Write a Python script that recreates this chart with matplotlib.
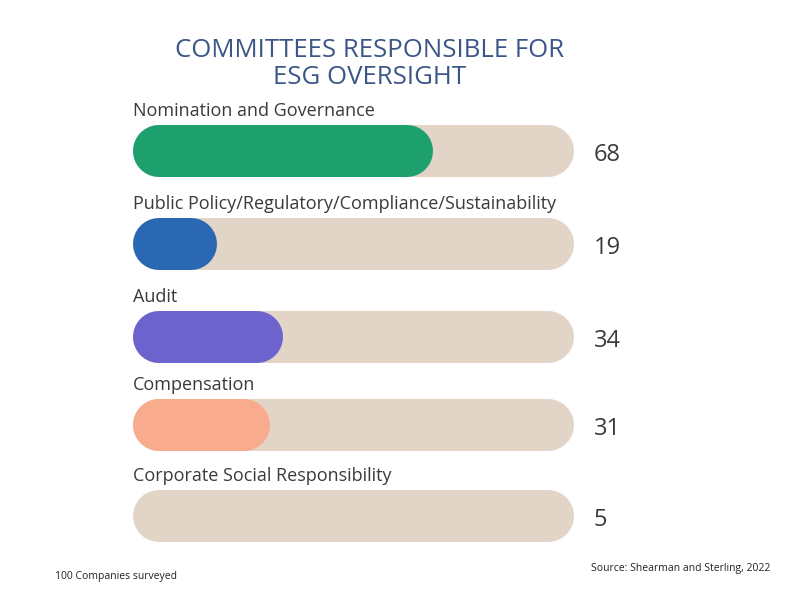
import matplotlib.pyplot as plt

categories = ["Nomination and Governance",
              "Public Policy/Regulatory/Compliance/Sustainability",
              "Audit", "Compensation", "Corporate Social Responsibility"]
values = [68, 19, 34, 31, 5]
colors = ["#1e9f6e", "#2a68b4", "#6c63cf", "#f9ab8e", "#e8676a"]
track_color = "#e2d4c7"

plt.rcParams['font.family'] = ['Open Sans', 'DejaVu Sans']

fig = plt.figure(figsize=(8, 6), dpi=100)
# axes spans the bar track horizontally, y in pixel units of the figure
ax = fig.add_axes([133 / 800, 0, 441 / 800, 1])
ax.set_xlim(0, 100)
ax.set_ylim(600, 0)
ax.axis('off')

bar_px = 52
lw = bar_px * 72 / 100
r = bar_px / 2 / 441 * 100  # cap radius in data units

row_y = [151, 244, 337, 425, 516]
for y, cat, v, c in zip(row_y, categories, values, colors):
    ax.plot([r, 100 - r], [y, y], color=track_color, lw=lw,
            solid_capstyle='round', zorder=1)
    ax.plot([r, max(v - r, r)], [y, y], color=c, lw=lw,
            solid_capstyle='round', zorder=2)
    ax.text(0, y - 40, cat, fontsize=13, color="#3a3a3a", va='center', ha='left')
    ax.text(104.5, y + 4, str(v), fontsize=17, color="#3a3a3a", va='center', ha='left')

fig.text(370 / 800, 1 - 64 / 600, "COMMITTEES RESPONSIBLE FOR\nESG OVERSIGHT",
         ha='center', va='center', fontsize=18.5, color="#3b5687", linespacing=1.1)
fig.text(55 / 800, 1 - 576 / 600, "100 Companies surveyed", fontsize=7.5,
         color="#222222", va='center')
fig.text(770 / 800, 1 - 569 / 600, "Source: Shearman and Sterling, 2022", fontsize=7.5,
         color="#222222", va='center', ha='right')

fig.savefig("out.png", dpi=100)
